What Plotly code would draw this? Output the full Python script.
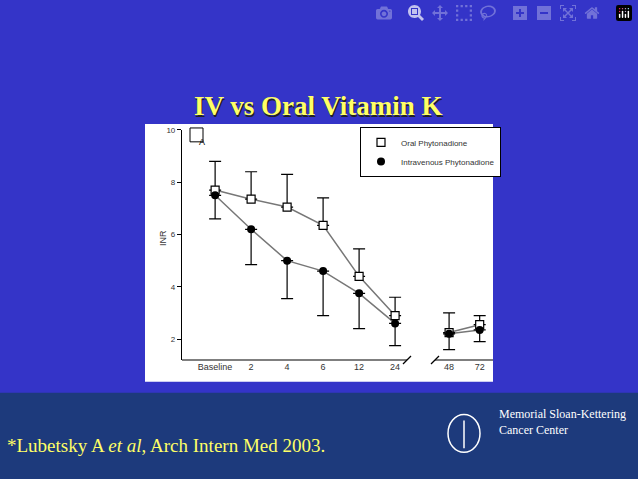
import plotly.graph_objects as go

labels = ["Baseline", "2", "4", "6", "12", "24", "48", "72"]
xpos = [0, 1, 2, 3, 4, 5, 6.5, 7.35]
oral = [7.7, 7.35, 7.05, 6.35, 4.4, 2.9, 2.25, 2.55]
oral_hi = [8.8, 8.4, 8.3, 7.4, 5.45, 3.6, 3.0, 2.9]
iv = [7.5, 6.2, 5.0, 4.6, 3.75, 2.6, 2.2, 2.35]
iv_lo = [6.6, 4.85, 3.55, 2.9, 2.4, 1.75, 1.6, 1.9]

W, H = 638, 479
def px(x): return x / W
def py(y): return 1 - y / H

fig = go.Figure()
segs = [slice(0, 6), slice(6, 8)]
for s in segs:
    fig.add_trace(go.Scatter(x=xpos[s], y=oral[s], mode="lines", line=dict(color="#777", width=1.5),
                             showlegend=False, hoverinfo="skip"))
    fig.add_trace(go.Scatter(x=xpos[s], y=iv[s], mode="lines", line=dict(color="#777", width=1.5),
                             showlegend=False, hoverinfo="skip"))
fig.add_trace(go.Scatter(x=xpos, y=oral, mode="markers", name="Oral Phytonadione",
                         marker=dict(symbol="square", size=8, color="white", line=dict(color="black", width=1.2)),
                         error_y=dict(type="data", symmetric=False,
                                      array=[h - v for h, v in zip(oral_hi, oral)],
                                      arrayminus=[0] * len(oral), color="black", thickness=1.2, width=6)))
fig.add_trace(go.Scatter(x=xpos, y=iv, mode="markers", name="Intravenous Phytonadione",
                         marker=dict(symbol="circle", size=8, color="black"),
                         error_y=dict(type="data", symmetric=False, array=[0] * len(iv),
                                      arrayminus=[v - l for v, l in zip(iv, iv_lo)],
                                      color="black", thickness=1.2, width=6)))

shapes = [
    dict(type="rect", xref="paper", yref="paper", x0=0, x1=1, y0=0, y1=py(392),
         fillcolor="#1d3a7c", line_width=0, layer="below"),
    dict(type="rect", xref="paper", yref="paper", x0=px(145), x1=px(493), y0=py(381), y1=py(121),
         fillcolor="white", line_width=0, layer="below"),
    dict(type="line", xref="paper", yref="paper", x0=px(182), x1=px(407), y0=py(359), y1=py(359),
         line=dict(color="black", width=1.2)),
    dict(type="line", xref="paper", yref="paper", x0=px(435), x1=px(493), y0=py(359), y1=py(359),
         line=dict(color="black", width=1.2)),
    dict(type="line", xref="paper", yref="paper", x0=px(403), x1=px(411), y0=py(363), y1=py(355),
         line=dict(color="black", width=1.2)),
    dict(type="line", xref="paper", yref="paper", x0=px(431), x1=px(439), y0=py(363), y1=py(355),
         line=dict(color="black", width=1.2)),
    dict(type="rect", xref="paper", yref="paper", x0=px(190), x1=px(203), y0=py(139), y1=py(125),
         line=dict(color="black", width=1), fillcolor="rgba(0,0,0,0)"),
    dict(type="circle", xref="paper", yref="paper", x0=px(448), x1=px(480), y0=py(452), y1=py(414),
         line=dict(color="white", width=1.5)),
    dict(type="line", xref="paper", yref="paper", x0=px(464), x1=px(464), y0=py(448), y1=py(420),
         line=dict(color="white", width=1.5)),
]

def A(**kw):
    d = dict(xref="paper", yref="paper", showarrow=False)
    d.update(kw)
    return d

ann = [
    A(text="<b>IV vs Oral Vitamin K</b>", x=px(320), y=py(88), font=dict(family="Liberation Serif", size=27, color="#222")),
    A(text="<b>IV vs Oral Vitamin K</b>", x=px(318), y=py(86), font=dict(family="Liberation Serif", size=27, color="#ffff66")),
    A(text="*Lubetsky A <i>et al</i>, Arch Intern Med 2003.", x=px(5), y=py(458), xanchor="left",
      font=dict(family="Liberation Serif", size=19, color="#ffff66")),
    A(text="Memorial Sloan-Kettering<br>Cancer Center", x=px(497), y=py(439), xanchor="left", align="left",
      font=dict(family="Liberation Serif", size=12, color="white")),
    A(text="A", x=px(196.5), y=py(132), font=dict(family="Liberation Sans", size=9, color="black")),
    A(text="INR", x=px(156), y=py(236), textangle=-90,
      font=dict(family="Liberation Sans Narrow, Liberation Sans", size=9, color="#333")),
]

fig.update_layout(
    width=W, height=H, margin=dict(l=0, r=0, t=0, b=0),
    paper_bgcolor="#3434c8", plot_bgcolor="white",
    shapes=shapes, annotations=ann,
    xaxis=dict(domain=[px(182), px(493)], range=[-0.92, 7.72], tickvals=xpos, ticktext=labels,
               showgrid=False, zeroline=False, showline=False, ticks="",
               tickfont=dict(family="Liberation Sans Narrow, Liberation Sans", size=9, color="#333")),
    yaxis=dict(domain=[py(359), py(127)], range=[1.2, 10], tickvals=[2, 4, 6, 8, 10],
               showgrid=False, zeroline=False, showline=True, linecolor="black", linewidth=1.2,
               ticks="outside", ticklen=4, tickcolor="black",
               tickfont=dict(family="Liberation Sans Narrow, Liberation Sans", size=8, color="#333")),
    legend=dict(x=px(360), y=py(124), xanchor="left", yanchor="top", bgcolor="white",
                bordercolor="black", borderwidth=1,
                font=dict(family="Liberation Sans Narrow, Liberation Sans", size=8, color="#333"),
                itemwidth=30, tracegroupgap=0),
)
fig.write_html("out.html", post_script="document.body.style.margin='0';")
